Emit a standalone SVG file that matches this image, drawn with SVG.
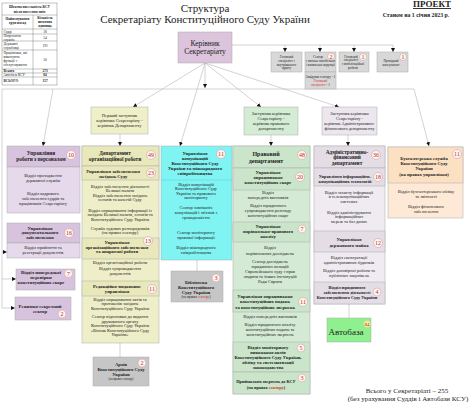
<svg xmlns="http://www.w3.org/2000/svg" width="474" height="402" viewBox="0 0 474 402">
<defs>
<marker id="ah" markerWidth="4" markerHeight="4" refX="4" refY="2" orient="auto" markerUnits="userSpaceOnUse"><path d="M0,0 L4,2 L0,4 z" fill="#111"/></marker>
<style>
text{font-family:"Liberation Serif","Times New Roman",serif;fill:#222;text-anchor:middle;font-size:4.4px}
.b{font-weight:bold;font-size:4.7px}
.d{font-weight:bold;font-size:5.3px}
.D{font-weight:bold;font-size:6px}
.s{font-size:3.3px}
.tb{font-size:3.5px;text-anchor:start}
.tv{font-size:3.5px}
.bold{font-weight:bold}
.red{fill:#d32f2f}
.num{font-size:6px;fill:#c62828}
.cir{fill:#fbf4ef;stroke:#c99;stroke-width:0.5}
.box{stroke:#aaa;stroke-width:0.5}
.con{stroke:#b5b5b5;stroke-width:0.6;fill:none}
.arr{marker-end:url(#ah)}
.grid{stroke:#666;stroke-width:0.4;fill:none}
</style>
</defs>
<rect width="474" height="402" fill="#fff"/>

<g id="title">
<text x="205" y="12" style="font-size:11px">Структура</text>
<text x="205" y="23" style="font-size:11px">Секретаріату Конституційного Суду України</text>
<text x="432" y="7" style="font-size:9px;font-weight:bold;text-decoration:underline">ПРОЕКТ</text>
<text x="416" y="17" style="font-size:5.8px;font-weight:bold">Станом на 1 січня 2023 р.</text>
</g>

<g id="staff-table">
<rect x="2" y="3" width="55" height="82" fill="#fff" class="grid"/>
<path class="grid" d="M2,15H57M2,29H57M2,34H57M2,41H57M2,50H57M2,69H57M2,73H57M2,77H57M33,15V85"/>
<text class="tv bold" x="29.5" y="8.3">Штатна чисельність КСУ</text>
<text class="tv bold" x="29.5" y="12.5">після внесення змін</text>
<text class="tv bold" x="17.5" y="19.5">Найменування</text>
<text class="tv bold" x="17.5" y="23.5">груп посад</text>
<text class="tv bold" x="45" y="19">Кількість</text>
<text class="tv bold" x="45" y="22.8">штатних</text>
<text class="tv bold" x="45" y="26.6">одиниць</text>
<text class="tb" x="3.5" y="33">Судді</text><text class="tv" x="45" y="33">18</text>
<text class="tb" x="3.5" y="37.3">Патронатна</text><text class="tb" x="3.5" y="40.5">служба</text><text class="tv" x="45" y="39">54</text>
<text class="tb" x="3.5" y="44.8">Державні</text><text class="tb" x="3.5" y="48.5">службовці</text><text class="tv" x="45" y="47">191</text>
<text class="tb" x="3.5" y="54">Працівники, які</text><text class="tb" x="3.5" y="58">виконують</text><text class="tb" x="3.5" y="62">функції з</text><text class="tb" x="3.5" y="66">обслуговування</text><text class="tv" x="45" y="61">10</text>
<text class="tb bold" x="3.5" y="72.2">Всього</text><text class="tv bold" x="45" y="72.2">273</text>
<text class="tb" x="3.5" y="76.2">Автобаза КСУ</text><text class="tv bold" x="45" y="76.2">84</text>
<text class="tb bold" x="3.5" y="82.3">ВСЬОГО</text><text class="tv bold" x="45" y="82.3">357</text>
</g>

<g id="connectors">
<path class="con" d="M232,45H393"/>
<path class="con arr" d="M285,45V52"/>
<path class="con arr" d="M320,45V52"/>
<path class="con arr" d="M354,45V52"/>
<path class="con arr" d="M393,45V52"/>
<path class="con arr" d="M205,63V88"/>
<path class="con" d="M2,89H414"/>
<path class="con arr" d="M414,89L429,146"/>
<path class="con arr" d="M53,89L43,146"/>
<path class="con" d="M2,89V308"/>
<path class="con arr" d="M2,252H7"/>
<path class="con arr" d="M2,279H16"/>
<path class="con arr" d="M2,308H15"/>
<path class="con arr" d="M205,63L133,107"/>
<path class="con arr" d="M205,63L180,146"/>
<path class="con arr" d="M205,63L261,107"/>
<path class="con arr" d="M205,63L339,107"/>
<path class="con arr" d="M120,134V146"/>
<path class="con arr" d="M271,135V146"/>
<path class="con arr" d="M348,135V146"/>
<path class="con" d="M120,343V357"/>
<path class="con" d="M197,260V271"/>
<path class="con" d="M349,304V318"/>
</g>

<g id="head">
<rect class="box" x="178" y="32" width="54" height="31" fill="#dcc4dc"/>
<text x="205" y="46" style="font-size:7.5px">Керівник</text>
<text x="205" y="54" style="font-size:7.5px">Секретаріату</text>
</g>

<g id="audit">
<rect class="box" x="271" y="52" width="31" height="20" fill="#d8d8d8"/>
<text class="s" x="286.5" y="58">Головний</text><text class="s" x="286.5" y="61.8">спеціаліст з</text><text class="s" x="286.5" y="65.6">внутрішнього</text><text class="s" x="286.5" y="69.4">аудиту</text>
</g>
<g id="anticorruption">
<rect class="box" x="305" y="52" width="31" height="20" fill="#d8d8d8"/>
<text class="s" x="318" y="58">Сектор</text><text class="s" x="320.5" y="62">з питань запобігання</text><text class="s" x="320.5" y="66">і виявлення корупції</text>
<circle class="cir" cx="331" cy="56.5" r="3.5"/><text class="num" x="331" y="58.6">2</text>
<rect class="box" x="305" y="72" width="31" height="17" fill="#d8d8d8"/>
<text class="s" x="320.5" y="77.5">Завідувач сектору - 1</text><text class="s red" x="320.5" y="81.5">Головний</text><text class="s" x="320.5" y="85.5"><tspan class="red">спеціаліст</tspan> - 1</text>
</g>
<g id="mobilization">
<rect class="box" x="339" y="52" width="30" height="20" fill="#d8d8d8"/>
<text class="s" x="351" y="57.5">Головний</text><text class="s" x="351" y="61.3">спеціаліст</text><text class="s" x="353" y="65.1">з мобілізаційної</text><text class="s" x="353" y="68.9">роботи</text>
<circle class="cir" cx="363" cy="57" r="3.5"/><text class="num" x="363" y="59.1">1</text>
</g>
<g id="consultant">
<rect class="box" x="377" y="52" width="31" height="20" fill="#d8d8d8"/>
<text class="s" x="391" y="62">Провідний</text><text class="s" x="391" y="66">консультант</text>
<circle class="cir" cx="403" cy="57" r="3.5"/><text class="num" x="403" y="59.1">1</text>
</g>

<g id="first-deputy">
<rect class="box" x="91" y="107" width="57" height="27" fill="#efefc8"/>
<text x="119.5" y="117">Перший заступник</text><text x="119.5" y="122">керівника Секретаріату -</text><text x="119.5" y="127">керівник Департаменту</text>
</g>
<g id="deputy-legal">
<rect class="box" x="244" y="107" width="54" height="28" fill="#d4ebd4"/>
<text x="271" y="114.5">Заступник керівника</text><text x="271" y="119.5">Секретаріату -</text><text x="271" y="124.5">керівник правового</text><text x="271" y="129.5">департаменту</text>
</g>
<g id="deputy-admin">
<rect class="box" x="322" y="107" width="55" height="28" fill="#ece6ee"/>
<text x="349.5" y="114.5">Заступник керівника</text><text x="349.5" y="119.5">Секретаріату -</text><text x="349.5" y="124.5">керівник Адміністративно-</text><text x="349.5" y="129.5">фінансового департаменту</text>
</g>

<g id="personnel">
<rect class="box" x="7" y="146" width="73" height="21" fill="#d8c3de"/>
<rect class="box" x="7" y="167" width="73" height="46" fill="#e6d9eb"/>
<text class="d" x="41" y="154.5">Управління</text><text class="d" x="41" y="160.5">роботи з персоналом</text>
<circle class="cir" cx="71" cy="155" r="4.5"/><text class="num" x="71" y="157.2">10</text>
<text x="43" y="176.5">Відділ проходження</text><text x="43" y="181.5">державної служби</text>
<text x="43" y="194.5">Відділ кадрового</text><text x="43" y="199.5">забезпечення суддів та</text><text x="43" y="204.5">працівників Секретаріату</text>
</g>
<g id="documents">
<rect class="box" x="7" y="223" width="73" height="20" fill="#d8c3de"/>
<rect class="box" x="7" y="243" width="73" height="15" fill="#e6d9eb"/>
<text class="b" x="40" y="229.5">Управління</text><text class="b" x="40" y="234">документального</text><text class="b" x="40" y="238.5">забезпечення</text>
<circle class="cir" cx="69" cy="233" r="4.5"/><text class="num" x="69" y="235.2">16</text>
<text x="43" y="248.5">Відділ прийняття та</text><text x="43" y="253.5">реєстрації документів</text>
</g>
<g id="complaints-check">
<rect class="box" x="16" y="269" width="59" height="21" fill="#d8c3de"/>
<text class="b" x="41" y="273.5">Відділ попередньої</text><text class="b" x="41" y="278.5">перевірки</text><text class="b" x="41" y="283.5">конституційних скарг</text>
<circle class="cir" cx="68.5" cy="273.5" r="4"/><text class="num" x="68.5" y="275.6">7</text>
</g>
<g id="secret-sector">
<rect class="box" x="15" y="297" width="56" height="23" fill="#d8c3de"/>
<text class="b" x="40" y="307.5">Режимно-секретний</text><text class="b" x="40" y="312.5">сектор</text>
<circle class="cir" cx="62" cy="314" r="4"/><text class="num" x="62" y="316.1">2</text>
</g>

<g id="org-department">
<rect class="box" x="82" y="146" width="77" height="197" fill="#eeeec8"/>
<rect class="box" x="82" y="146" width="77" height="20" fill="#e8e8bb"/>
<text class="d" x="115" y="154.5">Департамент</text><text class="d" x="115" y="160.5">організаційної роботи</text>
<circle class="cir" cx="151" cy="155" r="4.5"/><text class="num" x="151" y="157.2">49</text>
<rect class="box" x="82" y="166" width="77" height="14" fill="#e8e8bb"/>
<text class="b" x="113" y="173.3">Управління забезпечення</text><text class="b" x="113" y="178.3">засідань Суду</text>
<circle class="cir" cx="151" cy="173" r="4.5"/><text class="num" x="151" y="175.2">23</text>
<text x="120" y="187.5">Відділ забезпечення діяльності</text><text x="120" y="191.8">Великої палати</text>
<text x="120" y="197">Відділ забезпечення засідань</text><text x="120" y="201.3">сенатів та колегій Суду</text>
<text x="120" y="212">Відділ опрацювання інформації із</text><text x="120" y="216.3">засідань Великої палати, сенатів та</text><text x="120" y="220.6">Конституційного Суду України</text>
<text x="120" y="229.5">Служба судових розпорядників</text><text x="120" y="233.8">(на правах сектору)</text>
<rect class="box" x="82" y="238" width="77" height="21" fill="#e8e8bb"/>
<text class="b" x="117" y="243.8">Управління</text><text class="b" x="117" y="248.5">організаційного забезпечення</text><text class="b" x="117" y="253.2">та апаратної роботи</text>
<circle class="cir" cx="148" cy="241" r="4.5"/><text class="num" x="148" y="243.2">13</text>
<text x="120" y="264">Відділ організаційної роботи</text>
<text x="120" y="270">Відділ супроводження</text><text x="120" y="274.5">документів</text>
<rect class="box" x="82" y="281" width="77" height="15" fill="#e8e8bb"/>
<text class="b" x="117" y="287.5">Редакційно-видавниче</text><text class="b" x="117" y="292.5">управління</text>
<circle class="cir" cx="152" cy="289" r="4.5"/><text class="num" x="152" y="291.2">11</text>
<text x="120" y="300.5">Відділ опрацювання актів та</text><text x="120" y="305">протоколів засідань</text><text x="120" y="309.5">Конституційного Суду України</text>
<text x="120" y="318">Сектор підготовки до видання</text><text x="120" y="322.5">друкованого органу</text><text x="120" y="327">Конституційного Суду України</text><text x="120" y="331.5">«Вісник Конституційного Суду</text><text x="120" y="336">України»</text>
</g>
<g id="archive">
<rect class="box" x="93" y="357" width="56" height="29" fill="#c6c6c6"/>
<text class="b" x="121" y="365.5">Архів</text><text class="b" x="121" y="370.5">Конституційного Суду</text><text class="b" x="121" y="375.5">України</text>
<text x="121" y="380" style="font-size:3px">(на правах сектору)</text>
<circle class="cir" cx="142" cy="363" r="4"/><text class="num" x="142" y="365.1">2</text>
</g>

<g id="communications">
<rect class="box" x="161" y="146" width="71" height="114" fill="#80f3f3"/>
<path d="M161,180H232" stroke="#5cc" stroke-width="0.5"/>
<text class="b" x="195" y="154.5">Управління</text><text class="b" x="195" y="159.5">комунікацій</text><text class="b" x="195" y="164.5">Конституційного Суду</text><text class="b" x="195" y="169.5">України та міжнародного</text><text class="b" x="195" y="174.5">співробітництва</text>
<circle class="cir" cx="221" cy="154" r="4.5"/><text class="num" x="221" y="156.2">11</text>
<text x="196" y="185.5">Відділ комунікацій</text><text x="196" y="190">Конституційного Суду</text><text x="196" y="194.5">України та правового</text><text x="196" y="199">моніторингу</text>
<text x="196" y="208.5">Сектор зовнішніх</text><text x="196" y="213.5">комунікацій і зв'язків з</text><text x="196" y="218.5">громадськістю</text>
<text x="196" y="234">Сектор моніторингу</text><text x="196" y="238.5">правової інформації</text>
<text x="196" y="249">Відділ міжнародного</text><text x="196" y="253.5">співробітництва</text>
</g>
<g id="library">
<rect class="box" x="171" y="271" width="52" height="31" fill="#c6c6c6"/>
<text class="b" x="196" y="283.5">Бібліотека</text><text class="b" x="196" y="288.5">Конституційного</text><text class="b" x="196" y="293.5">Суду України</text>
<text x="196" y="298.3" style="font-size:3.5px">(на правах <tspan class="red">сектору</tspan>)</text>
<circle class="cir" cx="216" cy="278" r="4"/><text class="num" x="216" y="280.1">3</text>
</g>

<g id="legal-department">
<rect class="box" x="233" y="146" width="77" height="248" fill="#d5ead5"/>
<rect class="box" x="233" y="146" width="77" height="22" fill="#cbe5cb"/>
<text class="D" x="266" y="155.5">Правовий</text><text class="D" x="266" y="162.5">департамент</text>
<circle class="cir" cx="302" cy="155" r="4.5"/><text class="num" x="302" y="157.2">48</text>
<rect class="box" x="233" y="168" width="77" height="22" fill="#cbe5cb"/>
<text class="b" x="268" y="173.8">Управління</text><text class="b" x="268" y="179">опрацювання</text><text class="b" x="268" y="184.2">конституційних скарг</text>
<circle class="cir" cx="300" cy="177" r="4.5"/><text class="num" x="300" y="179.2">20</text>
<text x="268" y="193.5">Відділ</text><text x="268" y="198.5">попередніх висновків</text>
<text x="268" y="207">Відділ юридичного</text><text x="268" y="212">супроводження розгляду</text><text x="268" y="217">конституційних скарг</text>
<rect class="box" x="233" y="222" width="77" height="20" fill="#cbe5cb"/>
<text class="b" x="268" y="228">Управління</text><text class="b" x="268" y="233">порівняльно-правового</text><text class="b" x="268" y="238">аналізу</text>
<circle class="cir" cx="302" cy="229" r="4"/><text class="num" x="302" y="231.1">7</text>
<text x="270" y="249">Відділ</text><text x="270" y="254.5">порівняльних досліджень</text>
<text x="270" y="263">Сектор досліджень</text><text x="270" y="268">юридичних позицій</text><text x="270" y="273">Європейського суду з прав</text><text x="270" y="278">людини та інших інституцій</text><text x="270" y="283">Ради Європи</text>
<rect class="box" x="233" y="290" width="77" height="22" fill="#cbe5cb"/>
<text class="b" x="265" y="297.5">Управління опрацювання</text><text class="b" x="265" y="303">конституційних подань</text><text class="b" x="265" y="308.5">та конституційних звернень</text>
<circle class="cir" cx="303" cy="302" r="4.5"/><text class="num" x="303" y="304.2">11</text>
<text x="270" y="318">Відділ попередніх висновків</text>
<text x="270" y="325.5">Відділ юридичного аналізу</text><text x="270" y="330.5">конституційних подань та</text><text x="270" y="335.5">конституційних звернень</text>
<rect class="box" x="233" y="342" width="77" height="30" fill="#cbe5cb"/>
<text class="b" x="268" y="348.5">Відділ моніторингу</text><text class="b" x="268" y="353.5">виконання актів</text><text class="b" x="268" y="358.5">Конституційного Суду України,</text><text class="b" x="268" y="363.5">обліку та систематизації</text><text class="b" x="268" y="368.5">законодавства</text>
<circle class="cir" cx="301" cy="348" r="4"/><text class="num" x="301" y="350.1">5</text>
<rect class="box" x="233" y="372" width="77" height="22" fill="#cbe5cb"/>
<text class="b" x="266" y="383" style="font-size:4.3px">Приймальня звернень до КСУ</text><text class="b" x="266" y="389" style="font-size:4.3px">(на правах <tspan class="red">сектору</tspan>)</text>
<circle class="cir" cx="302" cy="378" r="4"/><text class="num" x="302" y="380.1">3</text>
</g>

<g id="admin-department">
<rect class="box" x="314" y="146" width="71" height="158" fill="#efebf1"/>
<rect class="box" x="314" y="146" width="71" height="22" fill="#e4dde6"/>
<text class="d" x="347" y="153.5">Адміністративно-</text><text class="d" x="347" y="159">фінансовий</text><text class="d" x="347" y="164.5">департамент</text>
<circle class="cir" cx="376" cy="155" r="4.5"/><text class="num" x="376" y="157.2">36</text>
<rect class="box" x="314" y="168" width="71" height="18" fill="#e4dde6"/>
<text class="b" x="345" y="177.5" style="font-size:4.3px">Управління інформаційно-</text><text class="b" x="345" y="182.5" style="font-size:4.3px">комунікаційних технологій</text>
<circle class="cir" cx="378" cy="177" r="4.5"/><text class="num" x="378" y="179.2">18</text>
<text x="349" y="193.5">Відділ захисту інформації</text><text x="349" y="198">в телекомунікаційних</text><text x="349" y="202.5">системах</text>
<text x="349" y="213.5">Відділ адміністрування</text><text x="349" y="218">інформаційних</text><text x="349" y="222.5">мереж та баз даних</text>
<rect class="box" x="314" y="231" width="71" height="21" fill="#e4dde6"/>
<text class="b" x="349" y="240.5">Управління</text><text class="b" x="349" y="246.5">державного майна</text>
<circle class="cir" cx="378" cy="243" r="4.5"/><text class="num" x="378" y="245.2">12</text>
<text x="349" y="259">Відділ експлуатації</text><text x="349" y="263.5">адміністративних будинків</text>
<text x="349" y="272">Відділ договірної роботи та</text><text x="349" y="276.5">публічних закупівель</text>
<rect class="box" x="314" y="282" width="71" height="22" fill="#e4dde6"/>
<text class="b" x="347" y="288.5" style="font-size:4.3px">Відділ юридичного</text><text class="b" x="347" y="293.5" style="font-size:4.3px">забезпечення діяльності</text><text class="b" x="347" y="298.5" style="font-size:4.3px">Конституційного Суду України</text>
<circle class="cir" cx="377" cy="292" r="4"/><text class="num" x="377" y="294.1">4</text>
</g>
<g id="autobase">
<rect class="box" x="327" y="318" width="44" height="24" fill="#8ef08e"/>
<text x="346" y="335" style="font-size:9px">Автобаза</text>
<circle cx="367" cy="324" r="3.5" fill="#f2ee9c" stroke="#cc9" stroke-width="0.4"/><text x="367" y="325.7" style="font-size:4.5px;fill:#b71c1c">84</text>
</g>

<g id="accounting">
<rect class="box" x="388" y="147" width="75" height="71" fill="#fde9d6"/>
<rect class="box" x="388" y="147" width="75" height="36" fill="#fce0c2"/>
<text class="b" x="424" y="159.5">Бухгалтерська служба</text><text class="b" x="424" y="164.5">Конституційного Суду</text><text class="b" x="424" y="169.5">України</text><text class="b" x="424" y="175.5">(на правах управління)</text>
<circle class="cir" cx="457" cy="154" r="4.5"/><text class="num" x="457" y="156.2">11</text>
<text x="426" y="192.5">Відділ бухгалтерського обліку</text><text x="426" y="197.5">та звітності</text>
<text x="426" y="207.5">Відділ фінансового</text><text x="426" y="212.5">забезпечення</text>
</g>

<g id="footer">
<text x="407" y="393" style="font-size:7px">Всього у Секретаріаті – 255</text>
<text x="408" y="401" style="font-size:7px">(без урахування Суддів і Автобази КСУ)</text>
</g>
</svg>
